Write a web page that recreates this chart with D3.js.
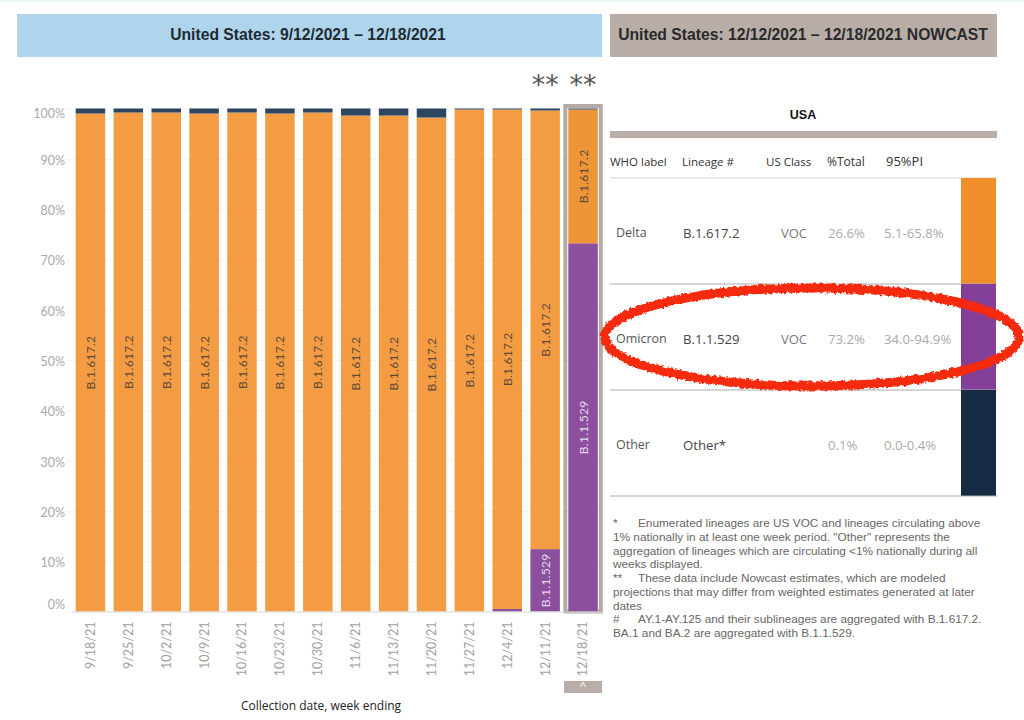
<!DOCTYPE html>
<html>
<head>
<meta charset="utf-8">
<style>
  html, body { margin: 0; padding: 0; background: #fff; }
  svg { display: block; }
  text { font-family: Lato, sans-serif; }
  .arial { font-family: "Liberation Sans", Arial, sans-serif; }
</style>
<script src="https://cdn.jsdelivr.net/npm/d3@7"></script>
</head>
<body>
<svg id="chart" width="1024" height="720"></svg>
<script>
// Chart values
var weeks = ['9/18/21', '9/25/21', '10/2/21', '10/9/21', '10/16/21', '10/23/21', '10/30/21',
             '11/6/21', '11/13/21', '11/20/21', '11/27/21', '12/4/21', '12/11/21', '12/18/21'];
var omicron = [0, 0, 0, 0, 0, 0, 0, 0, 0, 0, 0, 0.5, 12.4, 73.2];
var delta = [99.0, 99.2, 99.2, 99.0, 99.2, 99.0, 99.2, 98.6, 98.6, 98.2, 99.8, 99.3, 87.2, 26.6];
var other = [1.0, 0.8, 0.8, 1.0, 0.8, 1.0, 0.8, 1.4, 1.4, 1.8, 0.2, 0.2, 0.4, 0.2];
var yTicks = [0, 10, 20, 30, 40, 50, 60, 70, 80, 90, 100];

// Nowcast table
var tableHeaders = ['WHO label', 'Lineage #', 'US Class', '%Total', '95%PI'];
var whoLabels = ['Delta', 'Omicron', 'Other'];
var lineages = ['B.1.617.2', 'B.1.1.529', 'Other*'];
var usClass = ['VOC', 'VOC', ''];
var pctTotal = ['26.6%', '73.2%', '0.1%'];
var predInt = ['5.1-65.8%', '34.0-94.9%', '0.0-0.4%'];

var footnotes = [
  ['*', 'Enumerated lineages are US VOC and lineages circulating above'],
  ['', '1% nationally in at least one week period. "Other" represents the'],
  ['', 'aggregation of lineages which are circulating <1% nationally during all'],
  ['', 'weeks displayed.'],
  ['**', 'These data include Nowcast estimates, which are modeled'],
  ['', 'projections that may differ from weighted estimates generated at later'],
  ['', 'dates'],
  ['#', 'AY.1-AY.125 and their sublineages are aggregated with B.1.617.2.'],
  ['', 'BA.1 and BA.2 are aggregated with B.1.1.529.']
];

var lineageKeys = ['omicron', 'delta', 'other'];
var lineageNames = { omicron: 'B.1.1.529', delta: 'B.1.617.2', other: '' };
var barColor = { omicron: '#8c4f9e', delta: '#f49c44', other: '#2c4560' };
var cellColor = ['#f08f2a', '#843f98', '#152c44'];

var svg = d3.select('#chart');

/**
 * Header strips
 */
svg.append('rect').attr('x', 0).attr('y', 0).attr('width', 1024).attr('height', 2).attr('fill', '#e9f5f8');
svg.append('rect').attr('x', 17).attr('y', 14).attr('width', 585).attr('height', 43).attr('fill', '#afd5ed');
svg.append('rect').attr('x', 610).attr('y', 14).attr('width', 387).attr('height', 43).attr('fill', '#b9ada8');

svg.append('text').attr('class', 'arial')
  .attr('x', 308).attr('y', 40).attr('text-anchor', 'middle')
  .attr('font-size', 15.7).attr('font-weight', 'bold').attr('fill', '#1f2a33')
  .text('United States: 9/12/2021 \u2013 12/18/2021');
svg.append('text').attr('class', 'arial')
  .attr('x', 803).attr('y', 40).attr('text-anchor', 'middle')
  .attr('font-size', 15.7).attr('font-weight', 'bold').attr('fill', '#2a2a2a')
  .text('United States: 12/12/2021 \u2013 12/18/2021 NOWCAST');

/**
 * Stacked bars
 */
var x = d3.scaleBand().domain(weeks).range([71.5, 602]).paddingInner(0.222).paddingOuter(0.111);
var y = d3.scaleLinear().domain([0, 100]).range([611.5, 108.5]);

var rows = weeks.map(function (w, i) {
  return { week: w, omicron: omicron[i], delta: delta[i], other: other[i] };
});
var series = d3.stack().keys(lineageKeys)(rows);

// y axis, gridlines run behind the bars
var yAxis = svg.append('g')
  .attr('transform', 'translate(66,0)')
  .call(d3.axisLeft(y).tickValues(yTicks).tickSize(0).tickPadding(1).tickFormat(function (d) { return d + '%'; }));
yAxis.select('.domain').remove();
yAxis.selectAll('text')
  .attr('font-size', 12.5).attr('fill', '#a9a9a9').style('font-family', 'Lato, sans-serif')
  .attr('dy', function (d) { return d === 100 ? '0.75em' : d === 0 ? '-0.25em' : '0.44em'; });
yAxis.selectAll('.tick').append('line')
  .attr('x1', 0).attr('x2', 536).attr('stroke', '#f3f3f3');

// highlight box around the nowcast week
svg.append('rect')
  .attr('x', x('12/18/21') - 3).attr('y', 106)
  .attr('width', x.bandwidth() + 6).attr('height', y(0) - 106)
  .attr('fill', 'none').attr('stroke', '#b3aaa5').attr('stroke-width', 4);

svg.append('g').selectAll('g')
  .data(series)
  .enter().append('g')
    .attr('fill', function (d) { return barColor[d.key]; })
  .selectAll('rect')
  .data(function (d) { return d; })
  .enter().append('rect')
    .attr('x', function (d) { return x(d.data.week); })
    .attr('y', function (d) { return y(d[1]); })
    .attr('width', x.bandwidth())
    .attr('height', function (d) { return y(d[0]) - y(d[1]); })
    .attr('fill', function (d) {
      // the selected week is a touch darker
      return (d.data.week === '12/18/21' && d3.select(this.parentNode).datum().key === 'delta') ? '#ee9439' : null;
    });

// lineage labels inside the segments big enough to hold them
series.forEach(function (s) {
  s.forEach(function (d) {
    if (!lineageNames[s.key] || y(d[0]) - y(d[1]) < 50) return;
    var cx = x(d.data.week) + x.bandwidth() / 2;
    var cy = (y(d[0]) + y(d[1])) / 2;
    svg.append('text')
      .attr('transform', 'translate(' + (cx + 4.5) + ',' + cy + ') rotate(-90)')
      .attr('text-anchor', 'middle')
      .attr('font-size', 12)
      .attr('letter-spacing', 0.3)
      .attr('fill', s.key === 'omicron' ? '#e6d9ec' : '#5f4a35')
      .text(lineageNames[s.key]);
  });
});

// x axis
var xAxis = svg.append('g')
  .attr('transform', 'translate(0,' + y(0) + ')')
  .call(d3.axisBottom(x).tickSize(0));
xAxis.select('.domain').attr('stroke', '#d9d9d9');
xAxis.selectAll('text')
  .attr('font-size', 12.5).attr('fill', '#a0a0a0').style('font-family', 'Lato, sans-serif')
  .attr('text-anchor', 'end')
  .attr('transform', 'rotate(-90)')
  .attr('x', -10).attr('y', 0).attr('dy', '0.35em');

svg.append('text')
  .attr('x', 321).attr('y', 710).attr('text-anchor', 'middle')
  .attr('font-size', 12).attr('fill', '#222').style('font-family', '"Open Sans", sans-serif')
  .text('Collection date, week ending');

// nowcast asterisks
['12/11/21', '12/18/21'].forEach(function (w) {
  svg.append('text')
    .attr('x', x(w) + x.bandwidth() / 2).attr('y', 94)
    .attr('text-anchor', 'middle').attr('font-size', 27).attr('fill', '#555')
    .style('font-family', '"DejaVu Sans", sans-serif')
    .text('**');
});

// collapse button
svg.append('rect').attr('x', 564).attr('y', 681).attr('width', 38).attr('height', 12).attr('fill', '#b9ada8');
svg.append('text').attr('x', 583).attr('y', 692).attr('text-anchor', 'middle')
  .attr('font-size', 13).attr('fill', '#eee').text('^');

/**
 * Nowcast table
 */
svg.append('text').attr('class', 'arial')
  .attr('x', 803).attr('y', 119).attr('text-anchor', 'middle')
  .attr('font-size', 12.5).attr('font-weight', 'bold').attr('fill', '#111').text('USA');
svg.append('rect').attr('x', 610).attr('y', 131).attr('width', 387).attr('height', 7).attr('fill', '#b9ada8');

var headerX = [610, 682, 766, 827, 886];
var headerSize = [11.5, 11.5, 11.5, 12, 13];
tableHeaders.forEach(function (h, i) {
  svg.append('text')
    .attr('x', headerX[i]).attr('y', 166)
    .attr('font-size', headerSize[i]).attr('fill', '#333')
    .style('font-family', '"Open Sans", sans-serif')
    .text(h);
});

var rowY = d3.scaleBand().domain(whoLabels).range([178, 496]);

svg.append('line').attr('x1', 610).attr('x2', 997).attr('y1', 178).attr('y2', 178)
  .attr('stroke', '#e2e2e2').attr('stroke-width', 1.5);

var tableColumns = [
  { vals: whoLabels, x: 616, fill: '#555', size: 12.5 },
  { vals: lineages, x: 683, fill: '#444', size: 13.2 },
  { vals: usClass, x: 781, fill: '#777', size: 13 },
  { vals: pctTotal, x: 828, fill: '#aaa', size: 13.2 },
  { vals: predInt, x: 884, fill: '#aaa', size: 13.2 }
];

whoLabels.forEach(function (label, i) {
  var top = rowY(label);
  svg.append('rect')
    .attr('x', 961).attr('y', top).attr('width', 35).attr('height', rowY.bandwidth())
    .attr('fill', cellColor[i]);
  svg.append('line')
    .attr('x1', 610).attr('x2', 997)
    .attr('y1', top + rowY.bandwidth()).attr('y2', top + rowY.bandwidth())
    .attr('stroke', '#aaa').attr('stroke-width', 1);
  tableColumns.forEach(function (c) {
    svg.append('text')
      .attr('x', c.x).attr('y', top + rowY.bandwidth() / 2 + 2)
      .attr('dy', '0.35em')
      .attr('font-size', c.size).attr('fill', c.fill)
      .style('font-family', '"Open Sans", sans-serif')
      .text(c.vals[i]);
  });
});

/**
 * Footnotes
 */
var noteY = d3.scaleLinear().domain([0, footnotes.length - 1]).range([527, 637]);
footnotes.forEach(function (n, i) {
  svg.append('text').attr('class', 'arial')
    .attr('x', 613).attr('y', noteY(i))
    .attr('font-size', 11.8).attr('fill', '#666').text(n[0]);
  svg.append('text').attr('class', 'arial')
    .attr('x', n[0] ? 638 : 613).attr('y', noteY(i))
    .attr('font-size', 11.8).attr('fill', '#666').text(n[1]);
});

/**
 * Red marker ring around the Omicron row
 */
var defs = svg.append('defs');
var rough = defs.append('filter').attr('id', 'rough')
  .attr('x', '-5%').attr('y', '-20%').attr('width', '110%').attr('height', '140%');
rough.append('feTurbulence').attr('type', 'fractalNoise').attr('baseFrequency', 0.3)
  .attr('numOctaves', 3).attr('seed', 4).attr('result', 'noise');
rough.append('feDisplacementMap').attr('in', 'SourceGraphic').attr('in2', 'noise')
  .attr('scale', 5).attr('xChannelSelector', 'R').attr('yChannelSelector', 'G');

svg.append('ellipse')
  .attr('cx', 812).attr('cy', 337).attr('rx', 207).attr('ry', 49)
  .attr('fill', 'none').attr('stroke', '#f6290c').attr('stroke-width', 9)
  .attr('filter', 'url(#rough)');
</script>
</body>
</html>
